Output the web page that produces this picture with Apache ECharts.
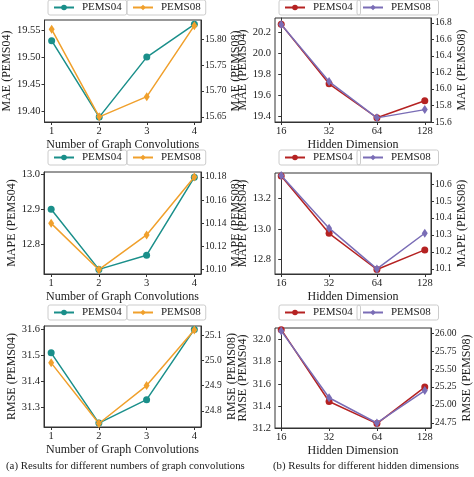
<!DOCTYPE html><html><head><meta charset="utf-8">
<script src="https://cdn.jsdelivr.net/npm/echarts@6/dist/echarts.min.js"></script>
<style>html,body{margin:0;padding:0;background:#fff}#c{width:474px;height:477px}</style></head><body><div id="c"></div>
<script>
const convX = [1, 2, 3, 4];
const hiddenDims = ['16', '32', '64', '128'];
const maeConv04 = [19.53, 19.39, 19.50, 19.56];
const maeConv08 = [15.819, 15.65, 15.689, 15.826];
const maeHid04 = [20.27, 19.71, 19.39, 19.55];
const maeHid08 = [16.78, 16.09, 15.65, 15.75];
const mapeConv04 = [12.90, 12.73, 12.77, 12.99];
const mapeConv08 = [10.14, 10.10, 10.13, 10.18];
const mapeHid04 = [13.35, 12.97, 12.73, 12.86];
const mapeHid08 = [10.65, 10.34, 10.10, 10.31];
const rmseConv04 = [31.51, 31.24, 31.33, 31.60];
const rmseConv08 = [24.99, 24.75, 24.90, 25.12];
const rmseHid04 = [32.09, 31.44, 31.24, 31.57];
const rmseHid08 = [26.03, 25.10, 24.75, 25.20];
const ticks = {
  maeConvL:[19.40,19.45,19.50,19.55], maeConvR:[15.65,15.70,15.75,15.80],
  maeHidL:[19.4,19.6,19.8,20.0,20.2], maeHidR:[15.6,15.8,16.0,16.2,16.4,16.6,16.8],
  mapeConvL:[12.8,12.9,13.0], mapeConvR:[10.10,10.12,10.14,10.16,10.18],
  mapeHidL:[12.8,13.0,13.2], mapeHidR:[10.1,10.2,10.3,10.4,10.5,10.6],
  rmseConvL:[31.3,31.4,31.5,31.6], rmseConvR:[24.8,24.9,25.0,25.1],
  rmseHidL:[31.2,31.4,31.6,31.8,32.0], rmseHidR:[24.75,25.00,25.25,25.50,25.75,26.00]
};
const F = 'Liberation Serif';
const colors = {L:['#1a8f8a','#f0a02c'], R:['#b52222','#7a6db6']};
const panels = [
 {col:0,metric:'MAE',d4:maeConv04,d8:maeConv08,tl:ticks.maeConvL,tr:ticks.maeConvR,lmin:19.381,lmax:19.568,rmin:15.640,rmax:15.837,ly:[20,122],dec:[2,2],g:[25,24]},
 {col:1,metric:'MAE',d4:maeHid04,d8:maeHid08,tl:ticks.maeHidL,tr:ticks.maeHidR,lmin:19.35,lmax:20.33,rmin:15.6,rmax:16.86,ly:[18,122],dec:[1,1],g:[18,19]},
 {col:0,metric:'MAPE',d4:mapeConv04,d8:mapeConv08,tl:ticks.mapeConvL,tr:ticks.mapeConvR,lmin:12.717,lmax:13.005,rmin:10.0963,rmax:10.1843,ly:[172,274],dec:[1,2],g:[23,24]},
 {col:1,metric:'MAPE',d4:mapeHid04,d8:mapeHid08,tl:ticks.mapeHidL,tr:ticks.mapeHidR,lmin:12.70,lmax:13.37,rmin:10.07,rmax:10.665,ly:[173,274],dec:[1,1],g:[23,19]},
 {col:0,metric:'RMSE',d4:rmseConv04,d8:rmseConv08,tl:ticks.rmseConvL,tr:ticks.rmseConvR,lmin:31.225,lmax:31.613,rmin:24.736,rmax:25.136,ly:[326,427],dec:[1,1],g:[23,24]},
 {col:1,metric:'RMSE',d4:rmseHid04,d8:rmseHid08,tl:ticks.rmseHidL,tr:ticks.rmseHidR,lmin:31.2,lmax:32.105,rmin:24.68,rmax:26.07,ly:[328,428],dec:[1,2],g:[23,30]}
];
const legendY = [0, 150, 305];
const legendX = [[48,127],[279,357]];
const grid=[],xAxis=[],yAxis=[],series=[],legend=[];
const axisLine={lineStyle:{color:'#333',width:1}};
const nts={fontFamily:F,fontSize:12,color:'#222'};
panels.forEach((p,i)=>{
  const xl = p.col===0?44:275, xr = p.col===0?201:431;
  grid.push({left:xl,width:xr-xl,top:p.ly[0],height:p.ly[1]-p.ly[0],show:true,borderColor:'#333',borderWidth:1});
  const conv = p.col===0;
  xAxis.push({type:'value',gridIndex:i,min:conv?0.85:-0.13,max:conv?4.14:3.13,
    name:conv?'Number of Graph Convolutions':'Hidden Dimension',nameLocation:'middle',nameGap:17,
    nameTextStyle:nts,axisLine:axisLine,splitLine:{show:false},
    axisTick:{show:true,inside:false,length:3,customValues:conv?convX:[0,1,2,3],lineStyle:{color:'#333'}},
    axisLabel:{customValues:conv?convX:[0,1,2,3],fontFamily:F,fontSize:10.5,color:'#222',margin:4,
      formatter:v=>conv?String(v):hiddenDims[Math.round(v)]}});
  yAxis.push({type:'value',gridIndex:i,position:'left',min:p.lmin,max:p.lmax,name:p.metric+' (PEMS04)',nameLocation:'middle',nameRotate:90,nameGap:p.g[0],
    nameTextStyle:nts,axisLine:{show:true,...axisLine},splitLine:{show:false},
    axisTick:{show:true,length:3,customValues:p.tl,lineStyle:{color:'#333'}},
    axisLabel:{customValues:p.tl,fontFamily:F,fontSize:10.5,color:'#222',margin:4,formatter:v=>v.toFixed(p.dec[0])}});
  yAxis.push({type:'value',gridIndex:i,position:'right',min:p.rmin,max:p.rmax,name:p.metric+' (PEMS08)',nameLocation:'middle',nameRotate:90,nameGap:p.g[1],
    nameTextStyle:nts,axisLine:{show:true,...axisLine},splitLine:{show:false},
    axisTick:{show:true,length:3,customValues:p.tr,lineStyle:{color:'#333'}},
    axisLabel:{customValues:p.tr,fontFamily:F,fontSize:9.5,color:'#222',margin:4,formatter:v=>v.toFixed(p.dec[1])}});
  const c = conv?colors.L:colors.R;
  const suf = conv?'':' ';
  const xs = conv?convX:[0,1,2,3];
  series.push({type:'line',name:'PEMS04'+suf,xAxisIndex:i,yAxisIndex:2*i,data:p.d4.map((v,k)=>[xs[k],v]),
    symbol:'circle',symbolSize:7,lineStyle:{color:c[0],width:1.5},itemStyle:{color:c[0]},z:3});
  series.push({type:'line',name:'PEMS08'+suf,xAxisIndex:i,yAxisIndex:2*i+1,data:p.d8.map((v,k)=>[xs[k],v]),
    symbol:'diamond',symbolSize:[6,9],lineStyle:{color:c[1],width:1.5},itemStyle:{color:c[1]},z:4});
});
for(let r=0;r<3;r++){for(let c=0;c<2;c++){['PEMS04','PEMS08'].forEach((n,k)=>{
  legend.push({data:[n+(c===0?'':' ')],left:legendX[c][k],top:legendY[r],padding:[2,5],
   itemWidth:20,itemHeight:7,itemGap:0,borderColor:'#ccc',borderWidth:1,borderRadius:2,selectedMode:false,
   textStyle:{fontFamily:F,fontSize:11,color:'#222',padding:[0,0,0,3]}});
});}}
const chart=echarts.init(document.getElementById('c'));
chart.setOption({animation:false,grid,xAxis,yAxis,series,legend,
  title:[{text:'(a) Results for different numbers of graph convolutions',left:1,top:456,textStyle:{fontFamily:F,fontSize:10.8,fontWeight:'normal',color:'#222'}},
         {text:'(b) Results for different hidden dimensions',left:268,top:456,textStyle:{fontFamily:F,fontSize:10.8,fontWeight:'normal',color:'#222'}}]});
</script></body></html>
